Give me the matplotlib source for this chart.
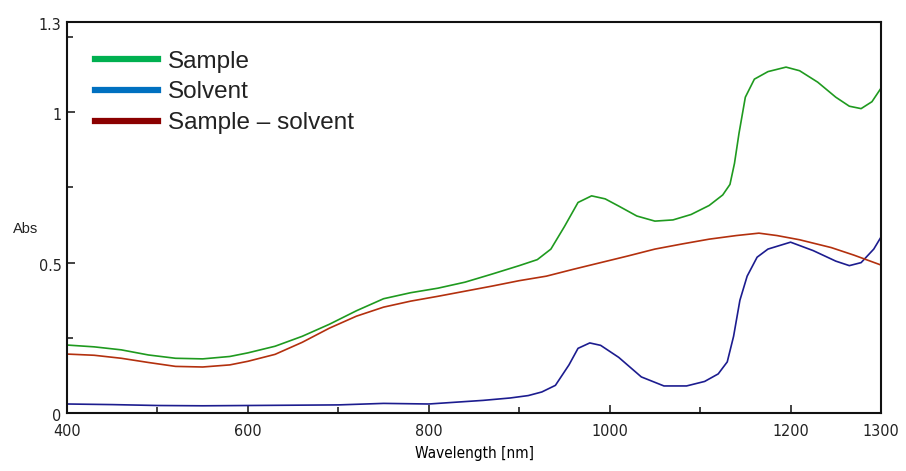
import matplotlib
matplotlib.use("Agg")
import matplotlib.pyplot as plt
from matplotlib.lines import Line2D
from matplotlib.ticker import MultipleLocator

# Sample spectrum
wl_sample = [400, 430, 460, 490, 520, 550, 580, 600, 630, 660, 690, 720, 750, 780,
             810, 840, 870, 900, 920, 935, 950, 965, 980, 995, 1010, 1030, 1050,
             1070, 1090, 1110, 1125, 1133, 1138, 1143, 1150, 1160, 1175, 1195,
             1210, 1230, 1250, 1265, 1278, 1290, 1300]
abs_sample = [0.226, 0.220, 0.210, 0.193, 0.182, 0.180, 0.188, 0.200, 0.222, 0.255,
              0.295, 0.340, 0.380, 0.400, 0.415, 0.435, 0.462, 0.490, 0.510, 0.545,
              0.620, 0.700, 0.722, 0.712, 0.688, 0.655, 0.638, 0.642, 0.660, 0.690,
              0.725, 0.760, 0.830, 0.930, 1.050, 1.110, 1.135, 1.150, 1.138, 1.100,
              1.050, 1.020, 1.012, 1.035, 1.080]

# Solvent spectrum
wl_solvent = [400, 450, 500, 550, 600, 650, 700, 750, 800, 830, 860, 890, 910, 925,
              940, 955, 965, 978, 990, 1010, 1035, 1060, 1085, 1105, 1120, 1130,
              1137, 1144, 1152, 1163, 1175, 1200, 1225, 1250, 1265, 1278, 1292, 1300]
abs_solvent = [0.030, 0.028, 0.025, 0.024, 0.025, 0.026, 0.027, 0.032, 0.030, 0.036,
               0.042, 0.050, 0.058, 0.070, 0.092, 0.160, 0.215, 0.233, 0.225, 0.185,
               0.120, 0.090, 0.090, 0.105, 0.130, 0.170, 0.255, 0.375, 0.455, 0.518,
               0.545, 0.568, 0.540, 0.505, 0.490, 0.500, 0.545, 0.585]

# Sample - solvent
wl_diff = [400, 430, 460, 490, 520, 550, 580, 600, 630, 660, 690, 720, 750, 780, 810,
           840, 870, 900, 930, 960, 990, 1020, 1050, 1080, 1110, 1140, 1165, 1185,
           1210, 1245, 1270, 1300]
abs_diff = [0.196, 0.192, 0.182, 0.168, 0.155, 0.153, 0.160, 0.172, 0.195, 0.235,
            0.282, 0.322, 0.352, 0.372, 0.388, 0.405, 0.422, 0.440, 0.455, 0.478,
            0.500, 0.522, 0.545, 0.562, 0.578, 0.590, 0.598, 0.590, 0.576, 0.550,
            0.525, 0.492]

x_ticks = [400, 600, 800, 1000, 1200, 1300]
y_ticks = [0, 0.5, 1, 1.3]
y_tick_labels = ["0", "0.5", "1", "1.3"]
legend_labels = ["Sample", "Solvent", "Sample \u2013 solvent"]

narrow = ["Liberation Sans Narrow", "DejaVu Sans"]
plt.rcParams["font.family"] = ["Liberation Sans", "DejaVu Sans"]

fig = plt.figure(figsize=(9.06, 4.71), dpi=100)
ax = fig.add_axes([0.074, 0.1231, 0.8984, 0.8302])

ax.plot(wl_sample, abs_sample, color="#1f9a1f", lw=1.2)
ax.plot(wl_solvent, abs_solvent, color="#1c1c8f", lw=1.2)
ax.plot(wl_diff, abs_diff, color="#b3300e", lw=1.2)

ax.set_xlim(400, 1300)
ax.set_ylim(0, 1.3)
ax.set_xticks(x_ticks)
ax.set_yticks(y_ticks)
ax.set_yticklabels(y_tick_labels)
ax.xaxis.set_minor_locator(MultipleLocator(100))
ax.yaxis.set_minor_locator(MultipleLocator(0.25))
ax.tick_params(which="both", direction="in", top=False, right=False,
               colors="#222222", width=1.2)
ax.tick_params(which="major", length=6)
ax.tick_params(axis="x", which="major", pad=8)
ax.tick_params(axis="y", which="major", pad=4)
ax.tick_params(which="minor", length=4)
for lab in ax.get_xticklabels() + ax.get_yticklabels():
    lab.set_family(narrow)
    lab.set_stretch("condensed")
    lab.set_fontsize(11.5)
for lab in ax.get_yticklabels():
    lab.set_va("top")
    lab.set_y(lab.get_position()[1])
# nudge y labels a little below their ticks, as in the original
import matplotlib.transforms as mtransforms
offset = mtransforms.ScaledTranslation(0, -2.5 / 72, fig.dpi_scale_trans)
for lab in ax.get_yticklabels():
    lab.set_va("center")
    lab.set_transform(lab.get_transform() + offset)
for s in ax.spines.values():
    s.set_linewidth(1.5)
    s.set_color("#111111")

ax.set_xlabel("Wavelength [nm]", family=narrow, stretch="condensed",
              fontsize=11, labelpad=5)
fig.text(0.028, 0.513, "Abs", fontsize=10.5, ha="center", va="center", color="#222222")

handles = [Line2D([], [], color="#00b050", lw=4.5),
           Line2D([], [], color="#0070c0", lw=4.5),
           Line2D([], [], color="#8b0000", lw=4.5)]
leg = ax.legend(handles, legend_labels, loc="upper left", bbox_to_anchor=(0.034, 0.927),
                frameon=False, fontsize=17.5, handlelength=2.6, handletextpad=0.4,
                labelspacing=0.36, borderaxespad=0, borderpad=0)
for t in leg.get_texts():
    t.set_color("#222222")

fig.savefig("out.png", dpi=100)
